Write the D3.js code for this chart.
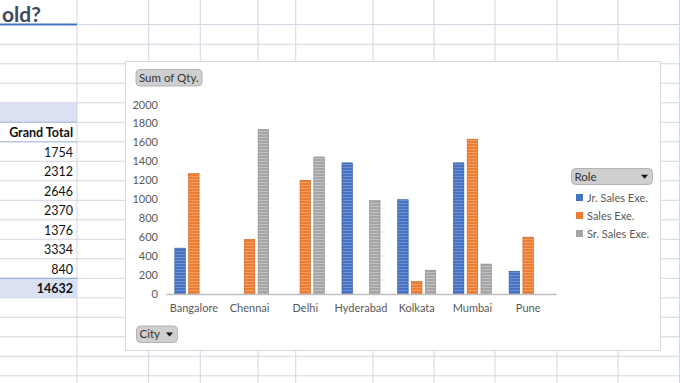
<!DOCTYPE html>
<html>
<head>
<meta charset="utf-8">
<script src="https://cdn.jsdelivr.net/npm/d3@7"></script>
<style>
  html, body { margin: 0; padding: 0; background: #fff; }
  svg { display: block; font-family: Lato, "Open Sans", sans-serif; }
</style>
</head>
<body>
<svg id="sheet" width="680" height="383"></svg>
<script>
const cities = ["Bangalore", "Chennai", "Delhi", "Hyderabad", "Kolkata", "Mumbai", "Pune"];
const roles = ["Jr. Sales Exe.", "Sales Exe.", "Sr. Sales Exe."];
const jrSales = [484, null, null, 1384, 995, 1384, 240];
const salesExe = [1270, 577, 1200, null, 130, 1634, 600];
const srSales = [null, 1735, 1446, 986, 251, 316, null];
const grandTotals = [1754, 2312, 2646, 2370, 1376, 3334, 840];
const grandTotalSum = 14632;
const yTicks = [0, 200, 400, 600, 800, 1000, 1200, 1400, 1600, 1800, 2000];

const colors = ["#4472c4", "#ed7d31", "#a5a5a5"];
const stripe = ["#7d9ad6", "#f4a878", "#c9c9c9"];
const edge = ["#30559c", "#c65f1c", "#888888"];

const svg = d3.select("#sheet");
const defs = svg.append("defs");

// bars have a fine horizontal striping in the screenshot
colors.forEach((c, i) => {
  const p = defs.append("pattern")
    .attr("id", "pat" + i)
    .attr("patternUnits", "userSpaceOnUse")
    .attr("width", 4).attr("height", 3);
  p.append("rect").attr("width", 4).attr("height", 3).attr("fill", c);
  p.append("rect").attr("y", 2).attr("width", 4).attr("height", 0.8).attr("fill", stripe[i]);
});

// ---- worksheet grid ----
const gridColor = "#d3d6e2";
const colLines = [77, 148.7, 200.3, 258, 295.7, 373, 434, 495, 557, 618, 679.5];
const rowLines = [24.5];
for (let y = 44.3; y < 383; y += 19.5) rowLines.push(y);

// pivot table fills
svg.append("rect").attr("x", 0).attr("y", 102.8).attr("width", 77).attr("height", 19.5).attr("fill", "#d9e1f2");
svg.append("rect").attr("x", 0).attr("y", 278.3).attr("width", 77).attr("height", 19.5).attr("fill", "#d9e1f2");

svg.append("g").selectAll("line").data(rowLines).join("line")
  .attr("x1", 0).attr("x2", 680)
  .attr("y1", d => d).attr("y2", d => d)
  .attr("stroke", gridColor).attr("stroke-width", 1);
svg.append("g").selectAll("line").data(colLines).join("line")
  .attr("x1", d => d).attr("x2", d => d)
  .attr("y1", 0).attr("y2", 383)
  .attr("stroke", gridColor).attr("stroke-width", 1);

// pivot borders
svg.append("line").attr("x1", 0).attr("x2", 77).attr("y1", 122.3).attr("y2", 122.3).attr("stroke", "#a9bde3");
svg.append("line").attr("x1", 0).attr("x2", 77).attr("y1", 141.8).attr("y2", 141.8).attr("stroke", "#a9bde3");
svg.append("line").attr("x1", 0).attr("x2", 77).attr("y1", 278.3).attr("y2", 278.3).attr("stroke", "#8eaadb");

// title (cropped at the left edge of the screenshot)
svg.append("text").attr("x", 2).attr("y", 21.5)
  .attr("font-size", 21).attr("font-weight", 700).attr("fill", "#3b4a60")
  .text("old?");
svg.append("line").attr("x1", 0).attr("x2", 77).attr("y1", 24.5).attr("y2", 24.5)
  .attr("stroke", "#4472c4").attr("stroke-width", 2);

// Grand Total column
svg.append("text").attr("x", 73).attr("y", 137).attr("text-anchor", "end")
  .attr("font-size", 12.5).attr("font-weight", 700).attr("fill", "#111")
  .text("Grand Total");
svg.append("g").selectAll("text").data(grandTotals).join("text")
  .attr("x", 73).attr("y", (d, i) => 156.5 + i * 19.5)
  .attr("text-anchor", "end").attr("font-size", 12.5).attr("fill", "#111")
  .text(d => d);
svg.append("text").attr("x", 73).attr("y", 293)
  .attr("text-anchor", "end").attr("font-size", 12.5).attr("font-weight", 700).attr("fill", "#111")
  .text(grandTotalSum);

// ---- chart object ----
svg.append("rect").attr("x", 125.5).attr("y", 61.5).attr("width", 535).attr("height", 289)
  .attr("fill", "#fff").attr("stroke", "#d9d9d9");

function button(x, y, w, h, label, arrow) {
  const g = svg.append("g");
  g.append("rect").attr("x", x).attr("y", y).attr("width", w).attr("height", h)
    .attr("rx", 4).attr("fill", "#cfcfcf").attr("stroke", "#b3b3b3");
  g.append("text").attr("x", x + 3).attr("y", y + h / 2 + 4)
    .attr("font-size", 11.5).attr("fill", "#333").text(label);
  if (arrow) {
    const ax = x + w - 8, ay = y + h / 2;
    g.append("path").attr("d", `M${ax - 3.5},${ay - 1.8}L${ax + 3.5},${ay - 1.8}L${ax},${ay + 2.2}Z`).attr("fill", "#111");
  }
}
button(136, 69.5, 66, 16.5, "Sum of Qty.", false);
button(136.5, 326, 41, 16.5, "City", true);
button(571.5, 168.5, 81, 16, "Role", true);

const x0 = d3.scaleBand().domain(cities).range([166, 556]).padding(0);
const x1 = d3.scaleBand().domain(roles).range([0, x0.bandwidth()])
  .paddingInner(0.24).paddingOuter(0.64);
const y = d3.scaleLinear().domain([0, 2000]).range([294, 104.5]);

const series = [jrSales, salesExe, srSales];
const barData = [];
cities.forEach((c, ci) => roles.forEach((r, ri) => {
  const v = series[ri][ci];
  if (v != null) barData.push({city: c, role: r, ri: ri, value: v});
}));

svg.append("g").selectAll("rect").data(barData).join("rect")
  .attr("x", d => x0(d.city) + x1(d.role))
  .attr("y", d => y(d.value))
  .attr("width", x1.bandwidth())
  .attr("height", d => y(0) - y(d.value))
  .attr("fill", d => `url(#pat${d.ri})`)
  .attr("stroke", d => edge[d.ri]).attr("stroke-width", 0.6);

// y axis labels
const yAxis = d3.axisLeft(y).tickValues(yTicks).tickFormat(d3.format("d")).tickSize(0).tickPadding(0);
const yg = svg.append("g").attr("transform", "translate(158,0)").call(yAxis);
yg.select(".domain").remove();
yg.selectAll("text").attr("font-size", 11).attr("fill", "#595959")
  .attr("font-family", "Lato, 'Open Sans', sans-serif");

// x axis
const xAxis = d3.axisBottom(x0).tickSize(0).tickPadding(10);
const xg = svg.append("g").attr("transform", "translate(0,294)").call(xAxis);
xg.select(".domain").attr("stroke", "#bfbfbf").attr("stroke-width", 1.5);
xg.selectAll("text").attr("font-size", 11).attr("fill", "#595959")
  .attr("font-family", "Lato, 'Open Sans', sans-serif");

// legend
const leg = svg.append("g").selectAll("g").data(roles).join("g")
  .attr("transform", (d, i) => `translate(576,${197.5 + i * 18})`);
leg.append("rect").attr("x", 0).attr("y", -3.5).attr("width", 7).attr("height", 7)
  .attr("fill", (d, i) => colors[i]);
leg.append("text").attr("x", 11).attr("y", 4)
  .attr("font-size", 11).attr("fill", "#595959").text(d => d);
</script>
</body>
</html>
